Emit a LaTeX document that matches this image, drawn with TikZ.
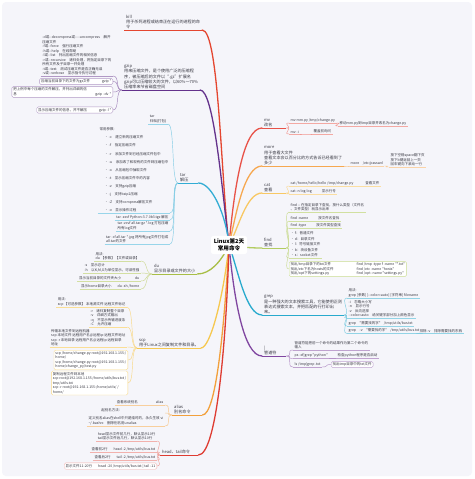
\documentclass[tikz,border=0pt]{standalone}
\usepackage{fontspec}
\setmainfont{Noto Sans CJK SC}[Ligatures=TeXOff]
\usetikzlibrary{backgrounds}

\definecolor{bgcol}{RGB}{245,245,250}
\definecolor{txtcol}{RGB}{55,55,65}
\definecolor{killred}{RGB}{228,70,48}
\definecolor{gzpurple}{RGB}{100,50,140}
\definecolor{tarblue}{RGB}{50,172,212}
\definecolor{duolive}{RGB}{168,190,70}
\definecolor{scpyellow}{RGB}{246,200,80}
\definecolor{aliasorange}{RGB}{242,160,60}
\definecolor{headred}{RGB}{222,60,50}
\definecolor{mvred}{RGB}{232,82,72}
\definecolor{moreorange}{RGB}{246,168,80}
\definecolor{catyellow}{RGB}{248,200,100}
\definecolor{findgreen}{RGB}{178,204,96}
\definecolor{grepcyan}{RGB}{40,170,205}
\definecolor{pipepurple}{RGB}{128,70,160}

\newcommand{\rootfont}{\fontsize{5.6pt}{7pt}\selectfont\bfseries}
\newcommand{\topicfont}{\fontsize{4.1pt}{5.2pt}\selectfont}
\newcommand{\leaffont}{\fontsize{3.5pt}{4.5pt}\selectfont}

\tikzset{
  topic/.style={align=left, inner xsep=2pt, inner ysep=1pt, text=txtcol, font=\topicfont},
  leaf/.style={align=left, inner xsep=1.5pt, inner ysep=0.8pt, text=txtcol, font=\leaffont},
  framed/.style={leaf, draw=#1, rounded corners=1.5pt, line width=0.35pt, fill=white, inner ysep=1.2pt},
  tline/.style={append after command={(\tikzlastnode.south west) edge[draw=#1, line width=0.9pt] (\tikzlastnode.south east)}},
  uline/.style={append after command={(\tikzlastnode.south west) edge[draw=#1, line width=0.45pt] (\tikzlastnode.south east)}},
  branch/.style={line width=1.3pt, line cap=round},
  twig/.style={line width=0.45pt},
  tol/.style={out=180, in=0, distance=7pt},
  tor/.style={out=0, in=180, distance=7pt},
}

\begin{document}
\begin{tikzpicture}[x=1pt, y=-1pt]
  \useasboundingbox (0,0) rectangle (474,479);

  % centre
  \node[fill=white, rounded corners=3pt, inner sep=3pt, font=\rootfont, align=center, text=black] (root) at (229,245) {Linux第2天\\常用命令};

  % kill
  \node[topic, tline=killred, anchor=south west] (kill) at (124,30) {kill\\用于杀死进程或结束正在运行的进程的命\\令};

  % gzip
  \node[topic, tline=gzpurple, anchor=south west] (gzip) at (122,90) {gzip\\用来压缩文件，是个使用广泛的压缩程\\序，被压缩后的文件以“.gz”扩展名\\gzip可以压缩较大的文件，以60\%～70\%\\压缩率来节省磁盘空间};
  \node[leaf, uline=gzpurple!50, anchor=south east] (gzopt) at (113,76) {-d或--decompress或----uncompress　解开\\压缩文件\\-f或--force　强行压缩文件\\-h或--help　在线帮助\\-l或--list　列出压缩文件的相关信息\\-r或--recursive　递归处理，将指定目录下的\\所有文件及子目录一并处理\\-t或--test　测试压缩文件是否正确无误\\-v或--verbose　显示指令执行过程};
  \node[framed=gzpurple!50, anchor=east] (gzone) at (113,81.5) {压缩当前目录下的文件为gz文件\hspace{12pt}gzip *};
  \node[framed=gzpurple!50, anchor=east, text width=98pt] (gztwo) at (113,92) {把上例中每个压缩的文件解压，并列出详细的信\\息\hfill gzip -dv *};
  \node[framed=gzpurple!50, anchor=east] (gzthree) at (113,110) {显示压缩文件的信息，并不解压\hspace{12pt}gzip -l *};

  % tar
  \node[topic, tline=tarblue, anchor=south west, text width=16pt] (tar) at (178,183) {tar\\解压};
  \node[leaf, uline=tarblue!50, anchor=south east] (tarpack) at (168,124) {tar\\归档(打包)};
  \node[leaf, uline=tarblue!50, anchor=south east] (tarargs) at (170,213) {常用参数:\\[3.6pt]
    \hspace{5pt}• -c　建立新的压缩文件\\[3.6pt]
    \hspace{5pt}• -f　指定压缩文件\\[3.6pt]
    \hspace{5pt}• -r　添加文件到已经压缩文件包中\\[3.6pt]
    \hspace{5pt}• -u　添加改了和现有的文件到压缩包中\\[3.6pt]
    \hspace{5pt}• -x　从压缩包中抽取文件\\[3.6pt]
    \hspace{5pt}• -t　显示压缩文件中的内容\\[3.6pt]
    \hspace{5pt}• -z　支持gzip压缩\\[3.6pt]
    \hspace{5pt}• -j　支持bzip2压缩\\[3.6pt]
    \hspace{5pt}• -Z　支持compress解压文件\\[3.6pt]
    \hspace{5pt}• -v　显示操作过程};
  \node[leaf, uline=tarblue!50, anchor=south east] (tarx) at (170,220) {tar -zxvf Python-3.7.0b3.tgz 解压};
  \node[leaf, uline=tarblue!50, anchor=south east] (tarz) at (170,231) {tar -zcvf all.tar.gz *.log 打包压缩\\所有log文件};
  \node[leaf, uline=tarblue!50, anchor=south east] (tarc) at (170,244) {tar -cf all.tar *.jpg 将所有jpg文件打包成\\all.tar的文件};

  % du
  \node[topic, tline=duolive, anchor=south west] (du) at (152,274) {du\\显示目录或文件的大小};
  \node[leaf, uline=duolive!50, anchor=south east] (duuse) at (141,261) {用法:\\du 【参数】【文件或目录】};
  \node[leaf, uline=duolive!50, anchor=south east] (duopt) at (141,273) {-s　显示总计\\-h　以K,M,G为单位显示，可读性强};
  \node[leaf, uline=duolive!50, anchor=south east] (duhere) at (141,281) {显示当前目录的文件夹大小\hspace{14pt}du};
  \node[leaf, uline=duolive!50, anchor=south east] (duhome) at (141,289) {显示home目录大小\hspace{6pt}du -sh /home};

  % scp
  \node[topic, tline=scpyellow, anchor=south west] (scp) at (137,348) {scp\\用于Linux之间复制文件和目录。};
  \node[leaf, uline=scpyellow!60, anchor=south east] (scpuse) at (127,307) {用法:\\scp 【可选参数】 本地源文件 远程文件标记};
  \node[leaf, uline=scpyellow!60, anchor=south east] (scpopt) at (127,327) {-r　递归复制整个目录\\-v　详细方式输出\\-q　不显示传输进度条\\-C　允许压缩};
  \node[leaf, uline=scpyellow!60, anchor=south east] (scpput) at (127,347) {传输本地文件到远程机器\\scp 本地文件 远程用户名@远程ip:远程文件地址\\scp -r 本地目录 远程用户名@远程ip:远程目录\\地址};
  \node[framed=scpyellow!70, anchor=east] (scpex) at (128,360) {scp /home/change.py root@192.168.1.155:/\\home/\\scp /home/change.py root@192.168.1.155:/\\home/change\_py/test.py};
  \node[framed=scpyellow!70, anchor=east] (scpget) at (128,383) {复制远程文件到本地\\scp root@192.168.1.155:/home/utils/bus.txt /\\tmp/utils.txt\\scp -r root@192.168.1.155:/home/utils/ /\\home/};

  % alias
  \node[topic, tline=aliasorange, anchor=south west, text width=26pt] (alias) at (172,415) {alias\\别名命令};
  \node[leaf, uline=aliasorange!50, anchor=south east] (aliasshow) at (165,405) {查看系统别名\hspace{18pt}alias};
  \node[leaf, anchor=south east, text width=62pt] (aliashow) at (165,413) {起别名方法：};
  \node[leaf, uline=aliasorange!50, anchor=south east] (aliasnote) at (165,426) {定义别名alias在shell中只是临时的，永久生效 vi\\\textasciitilde/.bashrc　删除别名用unalias};

  % head / tail
  \node[topic, tline=headred, anchor=south west, text width=34pt] (head) at (160,455) {head、tail命令};
  \node[leaf, uline=headred!40, anchor=south east] (headnote) at (157,441) {head显示文件前几行，默认显示10行\\tail显示文件后几行，默认显示10行};
  \node[leaf, uline=headred!40, anchor=south east] (headtwo) at (157,452) {查看前2行\hspace{6pt}head -2 /tmp/utils/bus.txt};
  \node[leaf, uline=headred!40, anchor=south east] (tailtwo) at (157,460) {查看后2行\hspace{6pt}tail -2 /tmp/utils/bus.txt};
  \node[framed=headred!40, anchor=east] (headmid) at (157,466) {显示文件11-20行\hspace{6pt}head -20 /tmp/utils/bus.txt | tail -11};

  % mv
  \node[topic, tline=mvred, anchor=south west, text width=20pt] (mv) at (262,128) {mv\\改名};
  \node[leaf, uline=mvred!50, anchor=south west] (mvone) at (289,123) {mv mm.py /tmp/change.py};
  \node[leaf, uline=mvred!50, anchor=south west] (mvonedesc) at (338,126) {移动mm.py到tmp目录并改名为change.py};
  \node[leaf, uline=mvred!50, anchor=south west] (mvtwo) at (289,134) {mv -i};
  \node[leaf, uline=mvred!50, anchor=south west] (mvtwodesc) at (312,134) {覆盖前询问};

  % more
  \node[topic, tline=moreorange, anchor=south west] (more) at (262,166) {more\\用于查看大文件\\查看文本会以百分比的方式告诉已经看到了\\多少};
  \node[leaf, uline=moreorange!50, anchor=south west] (moreone) at (349,166) {more　/etc/passwd};
  \node[leaf, uline=moreorange!50, anchor=south west] (morekeys) at (389,167) {按下空格space翻下页\\按下b键返回上一页\\回车键向下滚动一行};

  % cat
  \node[topic, tline=catyellow, anchor=south west, text width=20pt] (cat) at (262,193) {cat\\查看};
  \node[leaf, uline=catyellow!60, anchor=south west] (catone) at (289,186) {cat /home/hello/hello /tmp/change.py\hspace{12pt}查看文件};
  \node[leaf, uline=catyellow!60, anchor=south west] (cattwo) at (289,194) {cat -n log.log\hspace{10pt}显示行号};

  % find
  \node[topic, tline=findgreen, anchor=south west, text width=20pt] (find) at (262,248) {find\\查找};
  \node[leaf, uline=findgreen!60, anchor=south west] (findone) at (289,212) {find -- 在指定目录下查找，按什么类型（文件名\\、文件类型）就显示出来};
  \node[leaf, uline=findgreen!60, anchor=south west] (findname) at (289,221) {find -name\hspace{10pt}按文件名查找};
  \node[leaf, uline=findgreen!60, anchor=south west] (findtype) at (289,228) {find -type\hspace{10pt}按文件类型查找};
  \node[leaf, uline=findgreen!60, anchor=south west] (findkind) at (289,258) {• f：普通文件\\[1pt]• d：目录文件\\[1pt]• l：符号链接文件\\[1pt]• b：块设备文件\\[1pt]• s：socket文件};
  \node[framed=findgreen!70, anchor=west] (findex) at (289,269) {\makebox[66pt][l]{找出/tmp目录下的txt文件}find /tmp -type f -name "*.txt"\\\makebox[66pt][l]{找出/etc下名为hosts的文件}find /etc -name "hosts"\\\makebox[66pt][l]{找出/opt下的settings.py}find /opt -name "settings.py"};

  % grep
  \node[topic, tline=grepcyan, anchor=south west] (grep) at (262,315) {grep\\是一种强大的文本搜索工具，它能使用正则\\表达式搜索文本，并把匹配的行打印出\\来。};
  \node[leaf, uline=grepcyan!50, anchor=south west] (grepuse) at (347,298) {用法:\\grep [参数] [--color=auto] [字符串] filename};
  \node[leaf, uline=grepcyan!50, anchor=south west] (grepopt) at (347,318) {-i　忽略大小写\\-n　显示行号\\-v　反向选择\\--color=auto　给关键字部分加上颜色显示};
  \node[leaf, uline=grepcyan!50, anchor=south west] (grepone) at (347,326) {grep　"需要找的字"　/tmp/utils/bus.txt};
  \node[leaf, uline=grepcyan!50, anchor=south west] (grepv) at (347,333.5) {grep　-v　"需要找的字"　/tmp/utils/bus.txt};
  \node[leaf, uline=grepcyan!50, anchor=south west] (grepvdesc) at (418,333.5) {排除 -v　排除需要找的东西};

  % pipe
  \node[topic, tline=pipepurple, anchor=south west, text width=20pt] (pipe) at (262,356) {|\\管道符};
  \node[leaf, uline=pipepurple!50, anchor=south west] (pipenote) at (293,350) {管道符能把前一个命令的结果作为第二个命令的\\输入};
  \node[leaf, uline=pipepurple!50, anchor=south west] (pipeps) at (293,358.5) {ps -ef|grep "python"};
  \node[leaf, uline=pipepurple!50, anchor=south west] (pipepsdesc) at (336,358.5) {检查python程序是否启动};
  \node[leaf, uline=pipepurple!50, anchor=south west] (pipels) at (293,367) {ls /tmp|grep .txt};
  \node[framed=pipepurple!50, anchor=west] (pipelsdesc) at (331,364.5) {找出tmp目录中的txt文件};

  % twigs
  \foreach \c/\a in {gzopt/south east, gzone/east, gztwo/east, gzthree/east}
    \draw[twig, gzpurple!60] (gzip.south west) to[tol] (\c.\a);
  \foreach \c in {tarpack, tarargs, tarx, tarz, tarc}
    \draw[twig, tarblue!60] (tar.south west) to[tol] (\c.south east);
  \foreach \c in {duuse, duopt, duhere, duhome}
    \draw[twig, duolive!60] (du.south west) to[tol] (\c.south east);
  \foreach \c/\a in {scpuse/south east, scpopt/south east, scpput/south east, scpex/east, scpget/east}
    \draw[twig, scpyellow!70] (scp.south west) to[tol] (\c.\a);
  \foreach \c in {aliasshow, aliashow, aliasnote}
    \draw[twig, aliasorange!60] (alias.south west) to[tol] (\c.south east);
  \foreach \c/\a in {headnote/south east, headtwo/south east, tailtwo/south east, headmid/east}
    \draw[twig, headred!50] (head.south west) to[tol] (\c.\a);

  \foreach \c in {mvone, mvtwo}
    \draw[twig, mvred!60] (mv.south east) to[tor] (\c.south west);
  \draw[twig, mvred!60] (mvone.south east) to[tor] (mvonedesc.south west);
  \draw[twig, mvred!60] (mvtwo.south east) to[tor] (mvtwodesc.south west);
  \draw[twig, moreorange!60] (more.south east) to[tor] (moreone.south west);
  \draw[twig, moreorange!60] (moreone.south east) to[tor] (morekeys.south west);
  \foreach \c in {catone, cattwo}
    \draw[twig, catyellow!70] (cat.south east) to[tor] (\c.south west);
  \foreach \c/\a in {findone/south west, findname/south west, findtype/south west, findkind/south west, findex/west}
    \draw[twig, findgreen!70] (find.south east) to[tor] (\c.\a);
  \foreach \c in {grepuse, grepopt, grepone, grepv}
    \draw[twig, grepcyan!60] (grep.south east) to[tor] (\c.south west);
  \draw[twig, grepcyan!60] (grepv.south east) to[tor] (grepvdesc.south west);
  \foreach \c in {pipenote, pipeps, pipels}
    \draw[twig, pipepurple!60] (pipe.south east) to[tor] (\c.south west);
  \draw[twig, pipepurple!60] (pipeps.south east) to[tor] (pipepsdesc.south west);
  \draw[twig, pipepurple!60] (pipels.south east) to[tor] (pipelsdesc.west);

  % main branches
  \begin{scope}[on background layer]
    \fill[white] (0,0) rectangle (474,479);
    \fill[bgcol, rounded corners=4pt] (2,2) rectangle (472,476);
    \draw[branch, killred] (root.center) .. controls (221,180) and (219,30) .. (kill.south east);
    \draw[branch, gzpurple] (root.center) .. controls (222,190) and (214,90) .. (gzip.south east);
    \draw[branch, tarblue] (root.center) .. controls (226,215) and (212,183) .. (tar.south east);
    \draw[branch, duolive] (root.center) .. controls (221,262) and (210,274) .. (du.south east);
    \draw[branch, scpyellow] (root.center) .. controls (223,300) and (210,348) .. (scp.south east);
    \draw[branch, aliasorange] (root.center) .. controls (224,330) and (216,415) .. (alias.south east);
    \draw[branch, headred] (root.center) .. controls (226,350) and (216,455) .. (head.south east);
    \draw[branch, mvred] (root.center) .. controls (234,190) and (243,128) .. (mv.south west);
    \draw[branch, moreorange] (root.center) .. controls (236,215) and (244,166) .. (more.south west);
    \draw[branch, catyellow] (root.center) .. controls (238,230) and (246,193) .. (cat.south west);
    \draw[branch, findgreen] (root.center) .. controls (242,247) and (248,248) .. (find.south west);
    \draw[branch, grepcyan] (root.center) .. controls (238,270) and (246,315) .. (grep.south west);
    \draw[branch, pipepurple] (root.center) .. controls (234,300) and (244,356) .. (pipe.south west);
  \end{scope}
\end{tikzpicture}
\end{document}
